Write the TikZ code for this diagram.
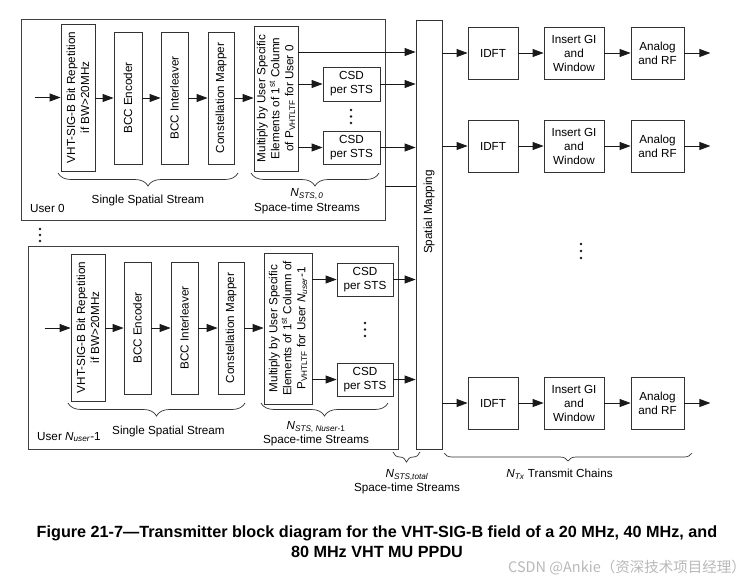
\documentclass[tikz,border=0pt]{standalone}
\usepackage{fontspec}
\setmainfont{Liberation Sans}
\newfontfamily\cjk{Noto Sans CJK SC}
\usetikzlibrary{arrows.meta,decorations.pathreplacing}
\begin{document}
\begin{tikzpicture}[x=1pt,y=-1pt,
  every node/.style={inner sep=0pt,font=\fontsize{11.7}{14}\selectfont,text=black},
  blk/.style={draw=black!80,line width=0.8pt,fill=white},
  ubox/.style={draw=black!75,line width=0.8pt},
  arr/.style={draw=black!90,line width=0.8pt,-{Triangle[length=11pt,width=8pt]}},
  ln/.style={draw=black!90,line width=0.8pt},
  brc/.style={draw=black!80,line width=0.7pt,decorate,decoration={brace,mirror,amplitude=#1}},
  rot/.style={rotate=90,align=center},
  dot/.style={fill=black!90}
]
\useasboundingbox (0,0) rectangle (756,582);

% ---------------- User 0 ----------------
\node[ubox,minimum width=364,minimum height=201] (user0) at (203,119.5) {};
\node[blk,minimum width=34,minimum height=147] (vht0) at (78,97.5) {};
\node[rot] (vht0t) at (vht0.center) {VHT-SIG-B Bit Repetition\\if BW>20MHz};
\node[blk,minimum width=28,minimum height=132] (enc0) at (128,98) {};
\node[rot] (enc0t) at (enc0.center) {BCC Encoder};
\node[blk,minimum width=27,minimum height=132] (int0) at (174.5,98) {};
\node[rot] (int0t) at (int0.center) {BCC Interleaver};
\node[blk,minimum width=26,minimum height=132] (map0) at (221,98) {};
\node[rot] (map0t) at (map0.center) {Constellation Mapper};
\node[blk,minimum width=44,minimum height=145] (mul0) at (276,98.5) {};
\node[rot] (mul0t) at (mul0.center) {Multiply by User Specific\\Elements of 1\textsuperscript{st} Column\\of P\textsubscript{VHTLTF} for User 0};
\node[blk,minimum width=57,minimum height=34,align=center] (csd0a) at (351.5,84) {CSD\\per STS};
\node[blk,minimum width=57,minimum height=33,align=center] (csd0b) at (351.5,147.5) {CSD\\per STS};

\draw[arr] ([xshift=-26pt]vht0.west) -- (vht0.west);
\draw[arr] (vht0.east |- enc0.west) -- (enc0.west);
\draw[arr] (enc0.east) -- (int0.west);
\draw[arr] (int0.east) -- (map0.west);
\draw[arr] (map0.east) -- (map0.east -| mul0.west);
\draw[arr] (mul0.east |- csd0a.west) -- (csd0a.west);
\draw[arr] (mul0.east |- csd0b.west) -- (csd0b.west);
\fill[dot] (351,110) circle (1.4) (351,116.5) circle (1.4) (351,123) circle (1.4);

\draw[brc=13pt] (58,173) -- (238,173);
\draw[brc=13pt] (251,173) -- (379,173);
\node (ss0) at (148,200) {Single Spatial Stream};
\node (ns0) at (307,194) {\textit{N}\textsubscript{\textit{STS},\,\textit{0}}};
\node (st0) at (307,208) {Space-time Streams};
\node[anchor=west] (u0) at (30,208) {User 0};

% ---------------- User Nuser-1 ----------------
\node[ubox,minimum width=370,minimum height=203] (user1) at (213,347.5) {};
\node[blk,minimum width=34,minimum height=147] (vht1) at (88,327.5) {};
\node[rot] (vht1t) at (vht1.center) {VHT-SIG-B Bit Repetition\\if BW>20MHz};
\node[blk,minimum width=27,minimum height=132] (enc1) at (137.5,328) {};
\node[rot] (enc1t) at (enc1.center) {BCC Encoder};
\node[blk,minimum width=27,minimum height=132] (int1) at (184.5,328) {};
\node[rot] (int1t) at (int1.center) {BCC Interleaver};
\node[blk,minimum width=26,minimum height=132] (map1) at (231,328) {};
\node[rot] (map1t) at (map1.center) {Constellation Mapper};
\node[blk,minimum width=48,minimum height=151] (mul1) at (288,328.5) {};
\node[rot] (mul1t) at (mul1.center) {Multiply by User Specific\\Elements of 1\textsuperscript{st} Column of\\P\textsubscript{VHTLTF} for User \textit{N}\textsubscript{\textit{user}}-1};
\node[blk,minimum width=56,minimum height=33,align=center] (csd1a) at (365,279.5) {CSD\\per STS};
\node[blk,minimum width=56,minimum height=33,align=center] (csd1b) at (365,379.5) {CSD\\per STS};

\draw[arr] ([xshift=-26pt]vht1.west |- enc1.west) -- (vht1.west |- enc1.west);
\draw[arr] (vht1.east |- enc1.west) -- (enc1.west);
\draw[arr] (enc1.east) -- (int1.west);
\draw[arr] (int1.east) -- (map1.west);
\draw[arr] (map1.east) -- (map1.east -| mul1.west);
\draw[arr] (mul1.east |- csd1a.west) -- (csd1a.west);
\draw[arr] (mul1.east |- csd1b.west) -- (csd1b.west);
\fill[dot] (365,323) circle (1.4) (365,329.5) circle (1.4) (365,336) circle (1.4);

\draw[brc=13pt] (68,403) -- (245,403);
\draw[brc=13pt] (261,403) -- (388,403);
\node (ss1) at (168.5,431) {Single Spatial Stream};
\node (ns1) at (316,427) {\textit{N}\textsubscript{\textit{STS}, \textit{Nuser}-1}};
\node (st1) at (316,440) {Space-time Streams};
\node[anchor=west] (u1) at (37,437) {User \textit{N}\textsubscript{\textit{user}}-1};

% dots between users
\fill[dot] (40,229) circle (1.4) (40,235) circle (1.4) (40,241) circle (1.4);

% ---------------- Spatial mapping ----------------
\node[blk,minimum width=26,minimum height=429] (sm) at (429,234.5) {};
\node[rotate=90] (smt) at (429,212) {Spatial Mapping};

\coordinate (top0) at (298,52);
\draw[arr] (top0) -- (top0 -| sm.west);
\draw[arr] (csd0a.east) -- (csd0a.east -| sm.west);
\draw[arr] (csd0b.east) -- (csd0b.east -| sm.west);
\coordinate (u0out) at (385,186);
\draw[ln] (u0out) -- (u0out -| sm.west);
\draw[arr] (csd1a.east) -- (csd1a.east -| sm.west);
\draw[arr] (csd1b.east) -- (csd1b.east -| sm.west);

% ---------------- Transmit chains ----------------
\foreach \i/\y in {1/53,2/146,3/403}{
  \node[blk,minimum width=50,minimum height=52] (idft\i) at (493,\y) {IDFT};
  \node[blk,minimum width=60,minimum height=52,align=center] (gi\i) at (574,\y) {Insert GI\\and\\Window};
  \node[blk,minimum width=53,minimum height=52,align=center] (rf\i) at (657.5,\y) {Analog\\and RF};
  \draw[arr] (idft\i.west -| sm.east) -- (idft\i.west);
  \draw[arr] (idft\i.east) -- (gi\i.west);
  \draw[arr] (gi\i.east) -- (rf\i.west);
  \draw[arr] (rf\i.east) -- ++(26,0);
}
\fill[dot] (581,244) circle (1.4) (581,251) circle (1.4) (581,258) circle (1.4);

\draw[brc=10pt] (393,452) -- (420,452);
\draw[brc=8pt] (444,453) -- (692,453);
\node (nt) at (407,475) {\textit{N}\textsubscript{\textit{STS},\textit{total}}};
\node (stt) at (407,488) {Space-time Streams};
\node (ntx) at (559.5,474) {\textit{N}\textsubscript{\textit{Tx}} Transmit Chains};

% ---------------- Caption ----------------
\node[align=center,font=\bfseries\fontsize{16.2}{19.5}\selectfont] (cap) at (377,541.5)
  {Figure 21-7—Transmitter block diagram for the VHT-SIG-B field of a 20 MHz, 40 MHz, and\\80 MHz VHT MU PPDU};
\node[anchor=east,font=\cjk\fontsize{14.5}{16}\selectfont,text=black!28] (wm) at (746,568) {CSDN @Ankie（资深技术项目经理）};
\end{tikzpicture}
\end{document}
